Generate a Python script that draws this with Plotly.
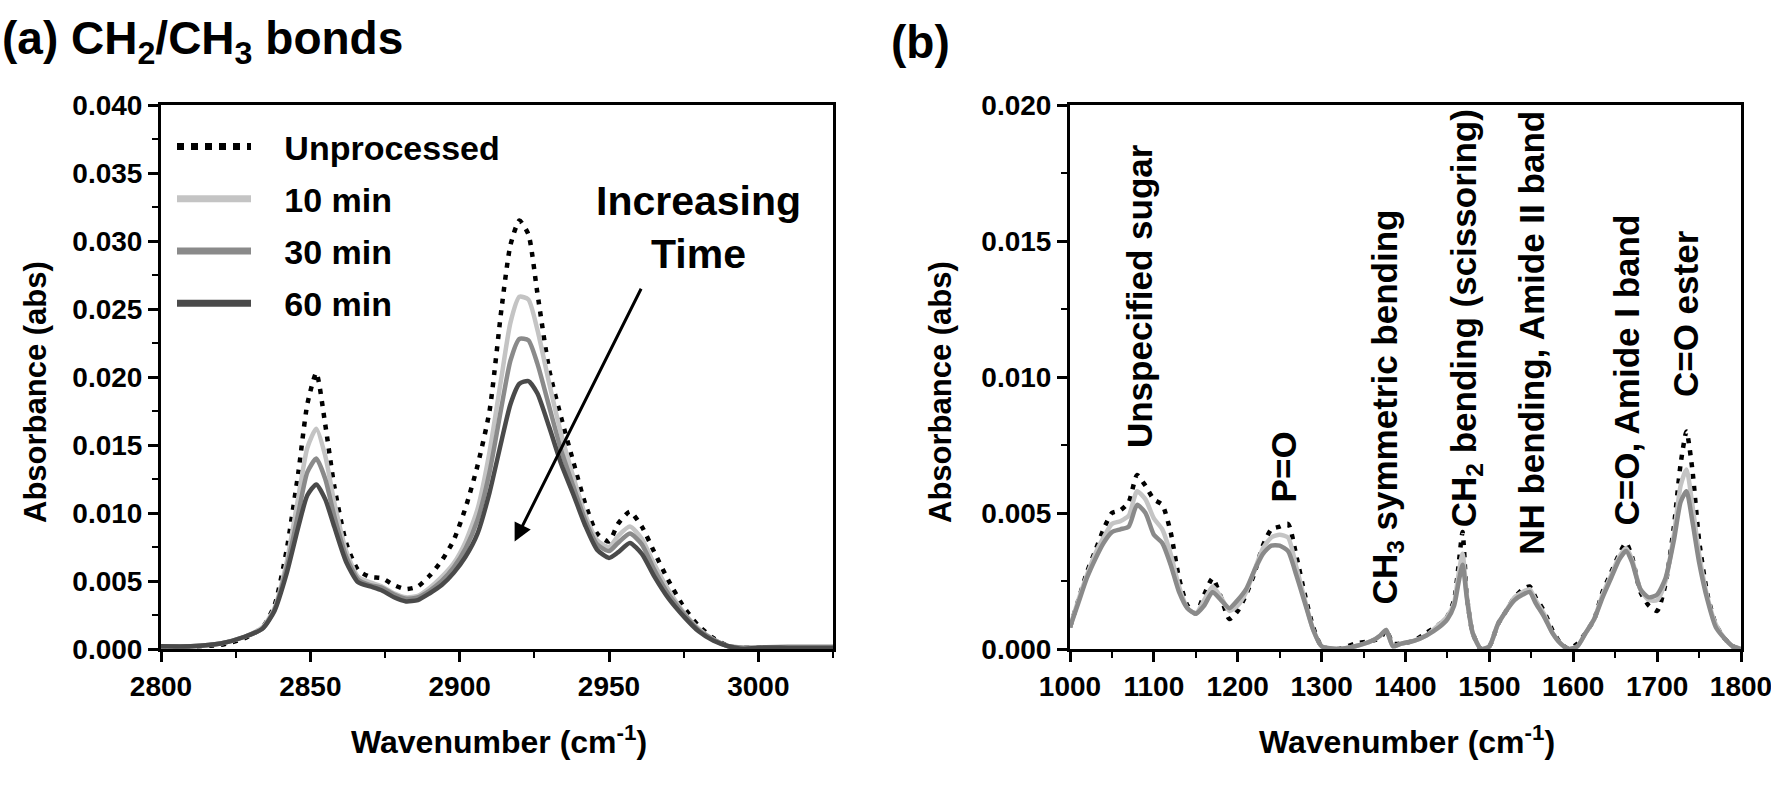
import plotly.graph_objects as go

# ---------------- Panel (a): CH2/CH3 region ----------------
wn_a = [2800, 2810, 2820, 2828, 2834, 2838, 2842, 2846, 2849, 2852, 2855, 2858, 2862, 2866,
        2870, 2874, 2878, 2882, 2886, 2890, 2894, 2898, 2902, 2906, 2910, 2914, 2917, 2920,
        2923, 2926, 2930, 2934, 2938, 2942, 2946, 2950, 2953, 2957, 2961, 2965, 2970, 2975,
        2980, 2985, 2990, 2995, 3000, 3010, 3025]
a_unprocessed = [0.0002, 0.0002, 0.0003, 0.0008, 0.0016, 0.0032, 0.0072, 0.0130, 0.0180, 0.0203,
                 0.0165, 0.0120, 0.0078, 0.0058, 0.0053, 0.0052, 0.0047, 0.0044, 0.0046, 0.0054,
                 0.0065, 0.0080, 0.0104, 0.0135, 0.0175, 0.0250, 0.0297, 0.0315, 0.0305, 0.0262,
                 0.0205, 0.0170, 0.0138, 0.0107, 0.0085, 0.0079, 0.0092, 0.0101, 0.0090, 0.0072,
                 0.0050, 0.0031, 0.0017, 0.0008, 0.0002, 0.0001, 0.0001, 0.0001, 0.0001]
a_10min = [0.0002, 0.0002, 0.0004, 0.0009, 0.0016, 0.0030, 0.0063, 0.0112, 0.0148, 0.0162,
           0.0142, 0.0108, 0.0072, 0.0053, 0.0049, 0.0046, 0.0041, 0.0038, 0.0039, 0.0045,
           0.0053, 0.0063, 0.0079, 0.0103, 0.0145, 0.0200, 0.0240, 0.0259, 0.0257, 0.0235,
           0.0195, 0.0158, 0.0127, 0.0099, 0.0080, 0.0075, 0.0083, 0.0090, 0.0081, 0.0063,
           0.0043, 0.0027, 0.0015, 0.0007, 0.0002, 0.0001, 0.0001, 0.0002, 0.0002]
a_30min = [0.0002, 0.0002, 0.0004, 0.0009, 0.0015, 0.0029, 0.0059, 0.0100, 0.0130, 0.0140,
           0.0125, 0.0098, 0.0068, 0.0051, 0.0047, 0.0045, 0.0040, 0.0037, 0.0038, 0.0043,
           0.0050, 0.0060, 0.0074, 0.0095, 0.0130, 0.0178, 0.0212, 0.0228, 0.0227, 0.0210,
           0.0178, 0.0146, 0.0120, 0.0095, 0.0077, 0.0072, 0.0078, 0.0085, 0.0077, 0.0059,
           0.0040, 0.0026, 0.0014, 0.0007, 0.0002, 0.0001, 0.0001, 0.0001, 0.0001]
a_60min = [0.0002, 0.0002, 0.0004, 0.0009, 0.0015, 0.0028, 0.0055, 0.0090, 0.0113, 0.0121,
           0.0110, 0.0090, 0.0064, 0.0049, 0.0046, 0.0043, 0.0038, 0.0035, 0.0036, 0.0041,
           0.0047, 0.0056, 0.0068, 0.0085, 0.0115, 0.0153, 0.0180, 0.0195, 0.0197, 0.0188,
           0.0163, 0.0136, 0.0114, 0.0091, 0.0073, 0.0067, 0.0071, 0.0078, 0.0070, 0.0054,
           0.0037, 0.0024, 0.0013, 0.0006, 0.0002, 0.0000, 0.0001, 0.0001, 0.0001]

# ---------------- Panel (b): fingerprint region ----------------
wn_b = [1000, 1010, 1020, 1030, 1040, 1050, 1060, 1070, 1080, 1090, 1100, 1110, 1120, 1130,
        1140, 1150, 1160, 1170, 1180, 1190, 1200, 1210, 1220, 1230, 1240, 1250, 1260, 1270,
        1280, 1290, 1300, 1320, 1340, 1360, 1370, 1377, 1385, 1395, 1410, 1425, 1440, 1450,
        1458, 1463, 1468, 1473, 1480, 1490, 1500, 1510, 1520, 1530, 1540, 1548, 1555, 1565,
        1575, 1585, 1595, 1605, 1615, 1625, 1635, 1645, 1655, 1663, 1670, 1680, 1690, 1700,
        1710, 1720, 1728, 1735, 1742, 1750, 1760, 1770, 1780, 1790, 1800]
b_unprocessed = [0.0008, 0.0018, 0.0028, 0.0036, 0.0044, 0.0050, 0.0051, 0.0054, 0.0064, 0.0060,
                 0.0055, 0.0053, 0.0043, 0.0026, 0.0016, 0.0013, 0.0020, 0.0026, 0.0019, 0.0011,
                 0.0014, 0.0020, 0.0028, 0.0038, 0.0044, 0.0045, 0.0046, 0.0034, 0.0020, 0.0008,
                 0.0001, 0.0000, 0.0002, 0.0003, 0.0004, 0.0007, 0.0002, 0.0002, 0.0003, 0.0006,
                 0.0009, 0.0012, 0.0018, 0.0030, 0.0043, 0.0020, 0.0006, 0.0000, 0.0001, 0.0009,
                 0.0014, 0.0019, 0.0022, 0.0023, 0.0019, 0.0014, 0.0007, 0.0002, 0.0000, 0.0002,
                 0.0006, 0.0011, 0.0021, 0.0028, 0.0035, 0.0039, 0.0034, 0.0021, 0.0016, 0.0014,
                 0.0024, 0.0045, 0.0068, 0.0080, 0.0066, 0.0040, 0.0020, 0.0009, 0.0004, 0.0001,
                 0.0000]
b_10min = [0.0008, 0.0018, 0.0027, 0.0035, 0.0041, 0.0046, 0.0047, 0.0049, 0.0058, 0.0055,
           0.0048, 0.0044, 0.0035, 0.0023, 0.0015, 0.0013, 0.0018, 0.0023, 0.0019, 0.0014,
           0.0016, 0.0021, 0.0029, 0.0037, 0.0041, 0.0042, 0.0041, 0.0030, 0.0018, 0.0007,
           0.0001, 0.0000, 0.0001, 0.0003, 0.0005, 0.0007, 0.0001, 0.0002, 0.0003, 0.0005,
           0.0009, 0.0012, 0.0017, 0.0027, 0.0035, 0.0020, 0.0006, 0.0000, 0.0001, 0.0009,
           0.0014, 0.0019, 0.0021, 0.0022, 0.0018, 0.0013, 0.0006, 0.0002, 0.0000, 0.0001,
           0.0006, 0.0011, 0.0020, 0.0027, 0.0034, 0.0037, 0.0033, 0.0022, 0.0018, 0.0018,
           0.0025, 0.0042, 0.0060, 0.0066, 0.0053, 0.0035, 0.0019, 0.0009, 0.0004, 0.0001,
           0.0000]
b_30min = [0.0008, 0.0017, 0.0026, 0.0033, 0.0039, 0.0043, 0.0044, 0.0045, 0.0053, 0.0050,
           0.0042, 0.0039, 0.0031, 0.0021, 0.0015, 0.0013, 0.0016, 0.0021, 0.0018, 0.0015,
           0.0018, 0.0022, 0.0029, 0.0035, 0.0038, 0.0038, 0.0036, 0.0027, 0.0017, 0.0007,
           0.0001, 0.0000, 0.0001, 0.0003, 0.0005, 0.0007, 0.0001, 0.0002, 0.0003, 0.0005,
           0.0008, 0.0011, 0.0016, 0.0024, 0.0031, 0.0019, 0.0006, 0.0000, 0.0001, 0.0009,
           0.0014, 0.0018, 0.0020, 0.0021, 0.0017, 0.0012, 0.0006, 0.0002, 0.0000, 0.0001,
           0.0006, 0.0011, 0.0019, 0.0026, 0.0033, 0.0036, 0.0032, 0.0022, 0.0019, 0.0020,
           0.0026, 0.0040, 0.0054, 0.0058, 0.0047, 0.0032, 0.0018, 0.0008, 0.0004, 0.0001,
           0.0000]

series_names = ["Unprocessed", "10 min", "30 min", "60 min"]
series_colors = ["#000000", "#c4c4c4", "#8a8a8a", "#4a4a4a"]

band_labels = ["Unspecified sugar", "P=O", "CH<sub>3</sub> symmetric bending",
               "CH<sub>2</sub> bending (scissoring)", "NH bending, Amide II band",
               "C=O, Amide I band", "C=O ester"]
band_x = [1083, 1254, 1378, 1472, 1550, 1663, 1733]
band_y = [0.0073, 0.0053, 0.00155, 0.0044, 0.0034, 0.00445, 0.0092]

assert len(wn_a) == len(a_unprocessed) == len(a_10min) == len(a_30min) == len(a_60min)
assert len(wn_b) == len(b_unprocessed) == len(b_10min) == len(b_30min)

FONT = "Liberation Sans, Arial, Helvetica, sans-serif"
W, H = 1771, 798
fig = go.Figure()

DOT = "5px,7px"
# panel a traces
for name, ys, col in zip(series_names, [a_unprocessed, a_10min, a_30min, a_60min], series_colors):
    fig.add_trace(go.Scatter(
        x=wn_a, y=ys, mode="lines", xaxis="x", yaxis="y", showlegend=False, name=name,
        line=dict(color=col, width=4.5,
                  dash=DOT if name == "Unprocessed" else "solid", shape="spline", smoothing=0.6)))
# panel b traces
for name, ys, col in zip(series_names[:3], [b_unprocessed, b_10min, b_30min], series_colors[:3]):
    fig.add_trace(go.Scatter(
        x=wn_b, y=ys, mode="lines", xaxis="x2", yaxis="y2", showlegend=False, name=name,
        line=dict(color=col, width=4.5, dash=DOT if name == "Unprocessed" else "solid",
                  shape="spline", smoothing=0.6)))
# legend entries
NB = "\u00a0\u00a0\u00a0"
for i, (name, col) in enumerate(zip(series_names, series_colors)):
    fig.add_trace(go.Scatter(
        x=[None], y=[None], mode="lines", xaxis="x", yaxis="y", name=NB + name,
        legendgroup="g%d" % i,
        line=dict(color=col, width=7, dash="dot" if name == "Unprocessed" else "solid")))

def px2x(p):
    return p / W

def py2y(p):
    return 1 - p / H

x1d = [px2x(161), px2x(833)]
x2d = [px2x(1070), px2x(1741)]
yd = [py2y(649), py2y(105)]

tickfont = dict(family=FONT, size=28, color="black", weight="bold")
common_axis = dict(showline=True, linecolor="black", linewidth=3, mirror=True, ticks="outside",
                   ticklen=10, tickwidth=2.5, tickcolor="black", showgrid=False, zeroline=False,
                   tickfont=tickfont, automargin=False, ticklabeloverflow="allow")

fig.update_layout(
    width=W, height=H, margin=dict(l=0, r=0, t=0, b=0),
    paper_bgcolor="white", plot_bgcolor="white",
    font=dict(family=FONT, color="black"),
    xaxis=dict(domain=x1d, range=[2800, 3025], anchor="y", tick0=2800, dtick=50,
               minor=dict(ticks="outside", dtick=25, ticklen=6, tickwidth=2, tickcolor="black"),
               **common_axis),
    yaxis=dict(domain=yd, range=[0, 0.04], anchor="x", dtick=0.005, tickformat=".3f",
               minor=dict(ticks="outside", dtick=0.0025, ticklen=6, tickwidth=2, tickcolor="black"),
               **common_axis),
    xaxis2=dict(domain=x2d, range=[1000, 1800], anchor="y2", tick0=1000, dtick=100,
                minor=dict(ticks="outside", dtick=50, ticklen=6, tickwidth=2, tickcolor="black"),
                **common_axis),
    yaxis2=dict(domain=yd, range=[0, 0.02], anchor="x2", dtick=0.005, tickformat=".3f",
                minor=dict(ticks="outside", dtick=0.0025, ticklen=6, tickwidth=2, tickcolor="black"),
                **common_axis),
    legend=dict(x=px2x(172), y=py2y(118), xanchor="left", yanchor="top",
                bgcolor="rgba(0,0,0,0)", borderwidth=0, itemwidth=74,
                font=dict(family=FONT, size=34, color="black", weight="bold"),
                tracegroupgap=5),
)

ann = []
# panel titles
ann.append(dict(text="(a) CH<sub>2</sub>/CH<sub>3</sub> bonds", xref="paper", yref="paper",
                x=0, y=py2y(42), xanchor="left", yanchor="middle", showarrow=False,
                font=dict(family=FONT, size=46, color="black", weight="bold")))
ann.append(dict(text="(b)", xref="paper", yref="paper",
                x=px2x(889), y=py2y(42), xanchor="left", yanchor="middle", showarrow=False,
                font=dict(family=FONT, size=46, color="black", weight="bold")))
# axis titles
for xc in [35, 940]:
    ann.append(dict(text="Absorbance (abs)", xref="paper", yref="paper", x=px2x(xc), y=py2y(392),
                    xanchor="center", yanchor="middle", textangle=-90, showarrow=False,
                    font=dict(family=FONT, size=31, color="black", weight="bold")))
for xc in [499, 1407]:
    ann.append(dict(text="Wavenumber (cm<sup>-1</sup>)", xref="paper", yref="paper", x=px2x(xc),
                    y=py2y(740), xanchor="center", yanchor="middle", showarrow=False,
                    font=dict(family=FONT, size=32, color="black", weight="bold")))
# increasing time arrow + text
ann.append(dict(text="Increasing<br>Time", xref="x", yref="y", x=2980, y=0.0310,
                xanchor="center", yanchor="middle", showarrow=False,
                font=dict(family=FONT, size=41, color="black", weight="bold")))
ann.append(dict(text="", xref="x", yref="y", x=2918.4, y=0.0079, axref="x", ayref="y",
                ax=2961, ay=0.0266, showarrow=True, arrowhead=2, arrowsize=1.2,
                arrowwidth=3, arrowcolor="black"))
# band labels
for t, bx, by in zip(band_labels, band_x, band_y):
    ann.append(dict(text=t, xref="x2", yref="y2", x=bx, y=by, xanchor="center", yanchor="bottom",
                    textangle=-90, showarrow=False,
                    font=dict(family=FONT, size=35, color="black", weight="bold")))
fig.update_layout(annotations=ann)

fig.write_html("out.html")
